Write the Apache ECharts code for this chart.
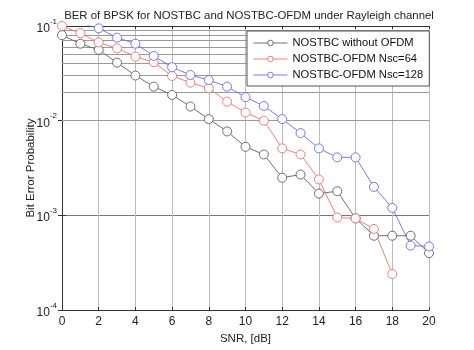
<!DOCTYPE html>
<html><head><meta charset="utf-8">
<script src="https://cdn.jsdelivr.net/npm/echarts@6/dist/echarts.min.js"></script>
<style>html,body{margin:0;padding:0;background:#fff}#c{width:474px;height:350px}</style>
</head><body><div id="c"></div>
<script>
const titleText = 'BER of BPSK for NOSTBC and NOSTBC-OFDM under Rayleigh channel';
const snr = [0,1,2,3,4,5,6,7,8,9,10,11,12,13,14,15,16,17,18,19,20];
const berNoOfdm = [0.080,0.065,0.056,0.041,0.030,0.0229,0.0187,0.0141,0.0104,0.0077,0.0053,0.0044,0.0025,0.0027,0.0017,0.0018,0.00093,0.00061,0.00061,0.00061,0.00040];
const berNsc64 = [0.100,0.084,0.067,0.058,0.0475,0.0414,0.0297,0.0252,0.0220,0.0159,0.0122,0.0100,0.0051,0.0044,0.0024,0.00095,0.00093,0.00072,0.00024];
const berNsc128 = [0.13,0.107,0.0945,0.0753,0.065,0.0483,0.0367,0.0304,0.0269,0.0229,0.0177,0.0143,0.0104,0.0074,0.0051,0.0041,0.0041,0.0020,0.0012,0.00048,0.00047];
const seriesNames = ['NOSTBC without OFDM','NOSTBC-OFDM Nsc=64','NOSTBC-OFDM Nsc=128'];
const minorGrid = [2e-4,3e-4,4e-4,5e-4,6e-4,7e-4,8e-4,9e-4,2e-3,3e-3,4e-3,5e-3,6e-3,7e-3,8e-3,9e-3,2e-2,3e-2,4e-2,5e-2,6e-2,7e-2,8e-2,9e-2];
const yTickExp = {'0.1':'-1','0.01':'-2','0.001':'-3','0.0001':'-4'};

function pairs(ys){ return ys.map((v,i)=>[snr[i],v]); }
const colors = ['#606060','#f07070','#6a6af0'];
const FF = 'Liberation Sans, Arial';

const chart = echarts.init(document.getElementById('c'));
const mkSeries = (name, ys, col) => ({
  name, type:'line', data:pairs(ys), z:5, clip:true,
  symbol:'circle', symbolSize:9, showAllSymbol:true,
  lineStyle:{color:col,width:0.9},
  itemStyle:{color:'#fff',opacity:1,borderColor:col,borderWidth:0.9},
  emphasis:{disabled:true}, animation:false
});
chart.setOption({
  animation:false,
  backgroundColor:'#fff',
  title:{text:titleText,left:244,textAlign:'center',top:5,
    textStyle:{fontFamily:FF,fontSize:11.4,fontWeight:'normal',color:'#222'}},
  grid:{left:62,right:45,top:26,bottom:39,containLabel:false},
  legend:{
    data:seriesNames, z:20,
    orient:'vertical',left:247,top:31,padding:[5,6,4,6],itemGap:2,
    itemWidth:34,itemHeight:7,
    itemStyle:{color:'#fff',borderWidth:0.9},
    lineStyle:{width:0.9},
    backgroundColor:'#fff',borderColor:'#555',borderWidth:1,
    textStyle:{fontFamily:FF,fontSize:11.2,color:'#111',lineHeight:14},
    selectedMode:false
  },
  xAxis:[{
    type:'value',min:0,max:20,interval:2,position:'bottom',
    name:'SNR, [dB]',nameLocation:'middle',nameGap:21,
    nameTextStyle:{fontFamily:FF,fontSize:11.5,color:'#222'},
    axisLine:{lineStyle:{color:'#333',width:1}},
    axisTick:{inside:true,length:3,lineStyle:{color:'#333'}},
    axisLabel:{fontFamily:FF,fontSize:12,color:'#222',margin:6},
    splitLine:{show:true,lineStyle:{color:'#bbbbbb',width:1}}
  },{
    type:'value',min:0,max:20,interval:2,position:'top',
    axisLine:{show:true,lineStyle:{color:'#333',width:1}},
    axisTick:{show:true,inside:true,length:3,lineStyle:{color:'#333'}},
    axisLabel:{show:false},splitLine:{show:false}
  }],
  yAxis:[{
    type:'log',min:1e-4,max:1e-1,logBase:10,position:'left',
    name:'Bit Error Probability',nameLocation:'middle',nameGap:25,nameRotate:90,
    nameMoveOverlap:false,
    nameTextStyle:{fontFamily:FF,fontSize:11.5,color:'#222'},
    axisLine:{show:true,lineStyle:{color:'#333',width:1}},
    axisTick:{show:true,inside:true,length:4,lineStyle:{color:'#333'}},
    axisLabel:{margin:5,formatter:function(v){
        const e = yTickExp[String(v)] || String(Math.round(Math.log10(v)));
        return '{b|10}{s|'+e+'}';},
      rich:{b:{fontFamily:FF,fontSize:12,color:'#222',verticalAlign:'bottom',padding:[5,0,0,0]},
            s:{fontFamily:FF,fontSize:8,color:'#222',verticalAlign:'top',padding:[0,0,6,0]}}},
    splitLine:{show:true,lineStyle:{color:'#777',width:1}}
  },{
    type:'log',min:1e-4,max:1e-1,logBase:10,position:'right',
    axisLine:{show:true,lineStyle:{color:'#333',width:1}},
    axisTick:{show:true,inside:true,length:4,lineStyle:{color:'#333'}},
    axisLabel:{show:false},splitLine:{show:false}
  }],
  series:[
    {type:'line',data:[],z:1,silent:true,
     markLine:{z:1,silent:true,symbol:['none','none'],label:{show:false},animation:false,
       lineStyle:{color:'#9a9a9a',width:1,type:'solid'},
       data:minorGrid.map(v=>({yAxis:v}))}},
    mkSeries(seriesNames[0],berNoOfdm,colors[0]),
    mkSeries(seriesNames[1],berNsc64,colors[1]),
    mkSeries(seriesNames[2],berNsc128,colors[2])
  ]
});
</script></body></html>
